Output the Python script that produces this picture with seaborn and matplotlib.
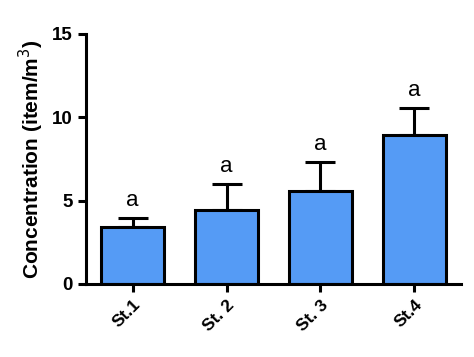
import matplotlib
matplotlib.use("Agg")
import matplotlib.pyplot as plt
import seaborn as sns
import pandas as pd

stations = ["St.1", "St. 2", "St. 3", "St.4"]
means = [3.42, 4.44, 5.58, 8.94]
errors = [0.54, 1.56, 1.74, 1.62]
letters = ["a", "a", "a", "a"]

sns.set_style("ticks")
plt.rcParams['font.family'] = ['Liberation Sans', 'DejaVu Sans']
plt.rcParams['text.color'] = 'black'
plt.rcParams['axes.labelcolor'] = 'black'
plt.rcParams['xtick.color'] = 'black'
plt.rcParams['ytick.color'] = 'black'
plt.rcParams['axes.edgecolor'] = 'black'

df = pd.DataFrame({"station": stations, "conc": means})

fig = plt.figure(figsize=(4.74, 3.57), dpi=100)
ax = fig.add_axes([0.181, 0.2045, 0.792, 0.7005])

sns.barplot(data=df, x="station", y="conc", color="#559BF5", saturation=1,
            width=0.67, edgecolor="black", linewidth=2.2, ax=ax, errorbar=None, zorder=2)
ax.errorbar(range(len(stations)), means, yerr=[[0] * len(errors), errors], fmt="none",
            ecolor="black", elinewidth=2.2, capsize=11, capthick=2.2, zorder=1)

for i, (m, e, l) in enumerate(zip(means, errors, letters)):
    ax.text(i, m + e + 1.05, l, ha="center", va="center", fontsize=16)

ax.set_xlim(-0.5, 3.5)
ax.set_ylim(0, 15)
ax.set_yticks([0, 5, 10, 15])
ax.set_xlabel("")
ax.set_ylabel("Concentration (item/m$^3$)", fontsize=15, fontweight="bold")
sns.despine(ax=ax)
for s in ["left", "bottom"]:
    ax.spines[s].set_linewidth(2.2)
ax.tick_params(axis="both", width=2.2, length=6, direction="out")
ax.tick_params(axis="y", labelsize=13.5)
ax.tick_params(axis="x", labelsize=12.5)
for t in ax.get_yticklabels():
    t.set_fontweight("bold")
for t in ax.get_xticklabels():
    t.set_fontweight("bold")
    t.set_rotation(45)
    t.set_ha("right")
    t.set_rotation_mode("anchor")

fig.savefig("out.png", dpi=100)
